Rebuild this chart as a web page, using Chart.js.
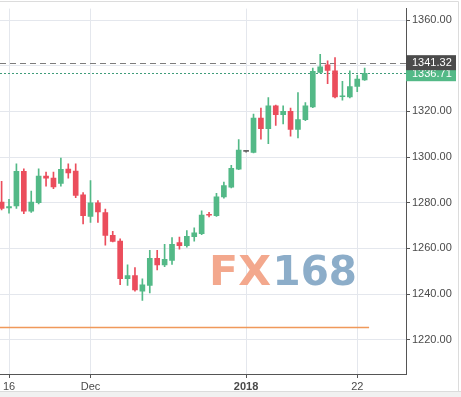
<!DOCTYPE html>
<html>
<head>
<meta charset="utf-8">
<title>Gold daily candles</title>
<script src="https://cdn.jsdelivr.net/npm/chart.js@4.4.1/dist/chart.umd.min.js"></script>
<style>
    html, body { margin: 0; padding: 0; background: #fff; overflow: hidden; }
    #chart { display: block; }
</style>
</head>
<body>
<canvas id="chart" width="461" height="397"></canvas>
<script>
// --- Data ---

const dates = [
    "2017-11-15", "2017-11-16", "2017-11-17", "2017-11-20", "2017-11-21",
    "2017-11-22", "2017-11-23", "2017-11-24", "2017-11-27", "2017-11-28",
    "2017-11-29", "2017-11-30", "2017-12-01", "2017-12-04", "2017-12-05",
    "2017-12-06", "2017-12-07", "2017-12-08", "2017-12-11", "2017-12-12",
    "2017-12-13", "2017-12-14", "2017-12-15", "2017-12-18", "2017-12-19",
    "2017-12-20", "2017-12-21", "2017-12-22", "2017-12-25", "2017-12-26",
    "2017-12-27", "2017-12-28", "2017-12-29", "2018-01-01", "2018-01-02",
    "2018-01-03", "2018-01-04", "2018-01-05", "2018-01-08", "2018-01-09",
    "2018-01-10", "2018-01-11", "2018-01-12", "2018-01-15", "2018-01-16",
    "2018-01-17", "2018-01-18", "2018-01-19", "2018-01-22", "2018-01-23",
];

const opens = [
    1280.3, 1277.7, 1278.6, 1293.7, 1276.3, 1280.0, 1291.7, 1290.8, 1288.4, 1294.7,
    1293.8, 1283.4, 1274.0, 1280.0, 1275.7, 1265.7, 1263.2, 1246.7, 1248.1, 1241.3,
    1243.8, 1255.6, 1252.8, 1254.7, 1262.5, 1261.2, 1265.1, 1266.4, 1274.7, 1274.3,
    1282.5, 1286.8, 1294.7, 1302.5, 1302.0, 1317.1, 1312.4, 1322.4, 1318.5, 1320.0,
    1312.1, 1316.4, 1322.0, 1337.1, 1340.4, 1337.8, 1326.4, 1326.3, 1330.9, 1333.8,
];

const highs = [
    1289.4, 1281.5, 1297.0, 1294.8, 1285.1, 1294.8, 1293.4, 1293.4, 1299.6, 1297.0,
    1297.0, 1284.4, 1289.7, 1280.9, 1277.2, 1267.5, 1264.2, 1252.8, 1251.6, 1246.7,
    1259.2, 1259.2, 1261.8, 1264.7, 1265.0, 1267.8, 1269.0, 1276.5, 1275.8, 1284.1,
    1289.0, 1296.4, 1307.6, 1302.9, 1318.8, 1321.4, 1326.0, 1322.8, 1322.4, 1321.4,
    1328.2, 1323.9, 1339.0, 1345.0, 1342.1, 1343.5, 1333.2, 1337.8, 1335.8, 1339.0,
];

const lows = [
    1276.8, 1275.4, 1277.5, 1275.2, 1275.8, 1279.5, 1287.2, 1286.2, 1287.2, 1290.8,
    1282.2, 1270.7, 1271.4, 1271.4, 1261.4, 1262.8, 1244.1, 1243.8, 1241.3, 1237.2,
    1240.5, 1250.6, 1252.0, 1253.0, 1259.7, 1260.5, 1263.2, 1266.0, 1273.8, 1274.0,
    1282.0, 1286.5, 1294.5, 1302.1, 1301.8, 1307.8, 1305.9, 1313.8, 1314.5, 1309.1,
    1308.4, 1315.9, 1321.6, 1336.8, 1332.1, 1325.9, 1324.9, 1325.9, 1328.6, 1333.5,
];

const closes = [
    1277.5, 1278.3, 1293.7, 1276.3, 1280.3, 1291.7, 1290.7, 1286.9, 1294.6, 1293.0,
    1283.2, 1274.3, 1280.0, 1276.0, 1265.7, 1263.1, 1246.7, 1248.1, 1241.8, 1244.1,
    1255.6, 1252.8, 1255.2, 1261.8, 1261.2, 1265.3, 1266.8, 1274.6, 1274.5, 1282.6,
    1287.5, 1295.1, 1303.0, 1302.5, 1317.1, 1312.4, 1322.4, 1318.5, 1320.0, 1312.1,
    1316.4, 1322.4, 1337.5, 1339.5, 1337.9, 1326.3, 1326.6, 1330.9, 1334.1, 1336.71,
];

// x axis ticks
const tickDates = ["2017-11-16", "2017-12-01", "2018-01-01", "2018-01-22"];
const tickLabels = ["16", "Dec", "2018", "22"];

// y axis ticks (1340 label sits under the price boxes)
const priceGrid = [1220, 1240, 1260, 1280, 1300, 1320, 1340, 1360];
const priceLabels = [1220, 1240, 1260, 1280, 1300, 1320, 1360];

// horizontal levels
const markerLevel = 1341.32;
const lastPrice = closes[closes.length - 1];
const supportLevel = 1225.4;

const COLORS = {
    up:        "#53b987",
    down:      "#eb4d5c",
    flat:      "#666666",
    grid:      "#e4e7ed",
    axis:      "#555555",
    text:      "#4a4a4a",
    support:   "#f0995a",
    marker:    "#7c7c7c",
    markerBox: "#4b4b4b",
    frame:     "#dcdcdc",
};

const FONT = "'Liberation Sans', Arial, sans-serif";

// visible range in candle units
const X_MIN = -0.216;
const X_MAX = 54.58;


// --- Helpers ---

function candleColor(i) {
    if (closes[i] > opens[i]) return COLORS.up;
    if (closes[i] < opens[i]) return COLORS.down;
    return COLORS.flat;
}

const candleColors = dates.map((d, i) => candleColor(i));

/**
 * Draw text squeezed/stretched into a given pixel width.
 */
function fitText(ctx, text, x0, width, baseline) {
    const w = ctx.measureText(text).width;
    ctx.save();
    ctx.translate(x0, baseline);
    ctx.scale(width / w, 1);
    ctx.fillText(text, 0, 0);
    ctx.restore();
}


// --- Plugins ---

const backgroundPlugin = {
    id: "background",
    beforeDraw(chart) {
        const ctx = chart.ctx;
        ctx.save();
        ctx.fillStyle = "#ffffff";
        ctx.fillRect(0, 0, chart.width, chart.height);
        ctx.restore();
    },
};

const watermarkPlugin = {
    id: "watermark",
    beforeDatasetsDraw(chart) {
        const ctx = chart.ctx;
        ctx.save();
        ctx.font = "bold 41px 'DejaVu Sans', sans-serif";
        ctx.textBaseline = "alphabetic";
        ctx.fillStyle = "#f3a88d";
        fitText(ctx, "FX", 209, 62, 285);
        ctx.fillStyle = "#8cadc9";
        fitText(ctx, "168", 272.5, 84.5, 285);
        ctx.restore();
    },
};

const priceLinesPlugin = {
    id: "priceLines",
    beforeDatasetsDraw(chart) {
        const ctx = chart.ctx;
        const area = chart.chartArea;
        const y = chart.scales.y;
        ctx.save();
        ctx.lineWidth = 1;

        const ym = Math.round(y.getPixelForValue(markerLevel)) + 0.5;
        ctx.strokeStyle = COLORS.marker;
        ctx.setLineDash([6, 4]);
        ctx.beginPath();
        ctx.moveTo(area.left, ym);
        ctx.lineTo(area.right, ym);
        ctx.stroke();

        const yp = Math.round(y.getPixelForValue(lastPrice)) + 0.5;
        ctx.strokeStyle = "#3f9c7a";
        ctx.setLineDash([2, 2]);
        ctx.beginPath();
        ctx.moveTo(area.left, yp);
        ctx.lineTo(area.right, yp);
        ctx.stroke();
        ctx.restore();
    },
};

const priceBoxesPlugin = {
    id: "priceBoxes",
    afterDraw(chart) {
        const ctx = chart.ctx;
        const area = chart.chartArea;
        const y = chart.scales.y;
        ctx.save();
        ctx.font = "11px " + FONT;
        ctx.textBaseline = "middle";
        ctx.textAlign = "left";

        const yp = y.getPixelForValue(lastPrice);
        ctx.fillStyle = COLORS.up;
        ctx.fillRect(area.right, yp - 7, 50, 15);
        ctx.fillStyle = "#ffffff";
        ctx.fillText(lastPrice.toFixed(2), area.right + 6, yp + 1);

        const ym = y.getPixelForValue(markerLevel);
        ctx.fillStyle = COLORS.markerBox;
        ctx.fillRect(area.right, ym - 7.5, 50, 15);
        ctx.fillStyle = "#ffffff";
        ctx.fillText(markerLevel.toFixed(2), area.right + 6, ym);

        // outer frame
        ctx.strokeStyle = COLORS.frame;
        ctx.lineWidth = 1;
        ctx.beginPath();
        ctx.moveTo(0, 1.5);
        ctx.lineTo(458.5, 1.5);
        ctx.lineTo(458.5, 391.5);
        ctx.stroke();
        ctx.fillStyle = "#f1f1f1";
        ctx.fillRect(0, 392, chart.width, chart.height - 392);
        ctx.beginPath();
        ctx.moveTo(0, 391.5);
        ctx.lineTo(chart.width, 391.5);
        ctx.stroke();
        ctx.restore();
    },
};


// --- Chart ---

const bodies = dates.map((d, i) => ({
    x: i,
    y: [Math.min(opens[i], closes[i]), Math.max(opens[i], closes[i])],
}));
const wicks = dates.map((d, i) => ({ x: i, y: [lows[i], highs[i]] }));

const ctx = document.getElementById("chart").getContext("2d");
new Chart(ctx, {
    type: "bar",
    data: {
        datasets: [
            {
                data: bodies,
                backgroundColor: candleColors,
                barThickness: 5,
                minBarLength: 1,
                grouped: false,
                borderWidth: 0,
            },
            {
                data: wicks,
                backgroundColor: candleColors,
                barThickness: 1,
                grouped: false,
                borderWidth: 0,
            },
            {
                type: "line",
                data: [
                    { x: X_MIN, y: supportLevel },
                    { x: dates.length - 0.4, y: supportLevel },
                ],
                borderColor: COLORS.support,
                borderWidth: 1.5,
                pointRadius: 0,
            },
        ],
    },
    options: {
        responsive: false,
        animation: false,
        devicePixelRatio: 1,
        layout: { padding: { top: 3, left: 0, right: 0, bottom: 0 } },
        plugins: {
            legend: { display: false },
            tooltip: { enabled: false },
        },
        scales: {
            x: {
                type: "linear",
                min: X_MIN,
                max: X_MAX,
                offset: false,
                afterBuildTicks(scale) {
                    scale.ticks = tickDates.map(d => ({ value: dates.indexOf(d) }));
                },
                afterFit(scale) {
                    scale.height = 23;
                },
                ticks: {
                    autoSkip: false,
                    maxRotation: 0,
                    padding: 2,
                    color: COLORS.text,
                    font: (c) => ({
                        size: 11,
                        family: FONT,
                        weight: (c.tick && /^\d{4}$/.test(c.tick.label)) ? "bold" : "normal",
                    }),
                    callback: (value) => tickLabels[tickDates.indexOf(dates[value])],
                },
                grid: {
                    offset: false,
                    color: COLORS.grid,
                    tickColor: COLORS.axis,
                    tickLength: 4,
                },
                border: { color: COLORS.axis, width: 1 },
            },
            y: {
                position: "right",
                min: 1205.0,
                max: 1365.0,
                afterBuildTicks(scale) {
                    scale.ticks = priceGrid.map(v => ({ value: v }));
                },
                afterFit(scale) {
                    scale.width = 55;
                },
                ticks: {
                    padding: 2,
                    color: COLORS.text,
                    font: { size: 11, family: FONT },
                    callback: (value) => priceLabels.includes(value) ? value.toFixed(2) : "",
                },
                grid: {
                    color: COLORS.grid,
                    tickColor: COLORS.axis,
                    tickLength: 4,
                },
                border: { color: COLORS.axis, width: 1 },
            },
        },
    },
    plugins: [backgroundPlugin, watermarkPlugin, priceLinesPlugin, priceBoxesPlugin],
});
</script>
</body>
</html>
